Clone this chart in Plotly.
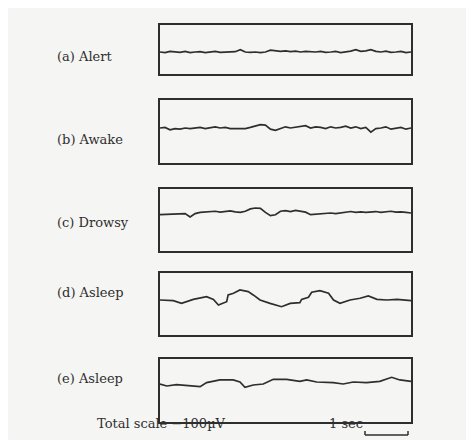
import numpy as np
import plotly.graph_objects as go

# EEG traces (approx. microvolts), 7 s per panel
labels = ["(a) Alert", "(b) Awake", "(c) Drowsy", "(d) Asleep", "(e) Asleep"]

t_fast = np.linspace(0, 7, 51)
alert = [0, -1, 1, 0.5, -0.5, 1, -1, 0, 0.5, -1, 0, 1, -0.5, 0, 1, 0.5, 4, 0, -0.5, 0, -1, 0, 3, 2.5, 1, 2,
         0.5, 1.5, 0, 1, 0.5, 0, 1, -0.5, 0, 1, -1, 0, 1.5, 4, 1, 2, 4, 1, 0, 1.5, -0.5, 0, 1, -1, 0]
awake = [0, 1, -3, -1, -2, 0, -1, 0, 1, -1, 0, 2, 0, 1, -1, -1, 0, -1, 1, 4, 5.7, 5, -2, -4, -1, 2,
         0, 1, 3, 4, 0, 2, 1, -1, 2, 0, 1, 3, 0, 2, -1, 1, -7, -1, 0, 2, -2, 0, 1, -2, 0]
drowsy = [-2.8, -2.5, -2, -1, -0.5, -1, -6.8, -1, 1, 2, 2.5, 3, 1.5, 2.5, 3.5, 2, 1, 3, 7, 8.5, 8, 1, -4.6, -3,
          3, 4, 2.5, 4.5, 3, 1.5, -2.8, -2, -1.5, -0.5, 0, -1, 0.5, 1.5, 2.5, 1, 2, 1, 1.5, 2.5, 1, 2, 3,
          1.5, 2, 1, 0]

t_d = [0, 0.37, 0.6, 0.93, 1.3, 1.49, 1.63, 1.77, 1.86, 1.9, 2.05, 2.23, 2.46, 2.6, 2.79, 3.07, 3.39,
       3.63, 3.9, 3.95, 4.14, 4.23, 4.46, 4.7, 4.84, 5.02, 5.3, 5.58, 5.81, 6.05, 6.33, 6.61, 7]
asleep_d = [0, -1.1, -5.7, 1.1, 5.7, 1.1, -8.6, -4.6, -2.9, 8.6, 11.4, 17.1, 14.3, 8.6, 0, -5.7, -11.4,
            -5.7, -4.6, 1.1, 4.6, 13.1, 16, 11.4, 0, -5.7, 0, 2.9, 6.8, 1.1, 0, 1.1, -1.1]

t_e = [0, 0.19, 0.46, 0.74, 1.12, 1.3, 1.67, 2.04, 2.23, 2.37, 2.6, 2.88, 3.16, 3.53, 3.9, 4.09, 4.37,
       4.83, 5.11, 5.39, 5.76, 6.13, 6.46, 6.69, 7]
asleep_e = [1.7, -1.7, 0.6, -0.6, -2.9, 4, 8.6, 8.6, 5.1, -4, 0, 1.7, 9.7, 9.7, 6.3, 8.6, 5.1, 4, 1.7,
            5.1, 4, 6.3, 13.1, 8.6, 6.3]

series = [(t_fast, alert), (t_fast, awake), (t_fast, drowsy), (t_d, asleep_d), (t_e, asleep_e)]

# page has an 8px body margin, so work in window pixels shifted by it
OFF = 8
W, H = 474 - OFF, 440 - OFF
def px(x):
    return (x - OFF) / W
def py(y):
    return 1 - (y - OFF) / H

# panel boxes in window pixels: top, trace baseline, bottom
boxes = [(25, 52, 74), (100, 128, 163), (189, 213, 251), (273, 300, 335), (359, 385, 422)]
label_y = [47, 130, 222, 302, 388]
uv_per_px = 1.7

fig = go.Figure()
ink = "#2e2e2e"
for i, ((t, v), (top, mid, bot)) in enumerate(zip(series, boxes)):
    n = "" if i == 0 else str(i + 1)
    fig.add_trace(go.Scatter(x=t, y=v, mode="lines", xaxis="x" + n, yaxis="y" + n,
                             line=dict(color=ink, width=1.7), showlegend=False))
    ax = dict(domain=[px(160), px(411)], range=[0, 7], showticklabels=False, showgrid=False,
              zeroline=False, showline=True, mirror=True, linecolor=ink, linewidth=2.2, ticks="",
              anchor="y" + n)
    ay = dict(domain=[py(bot), py(top)], anchor="x" + n,
              range=[-(bot - mid) * uv_per_px, (mid - top) * uv_per_px], showticklabels=False,
              showgrid=False, zeroline=False, showline=True, mirror=True, linecolor=ink, linewidth=2.2)
    fig.update_layout({"xaxis" + n: ax, "yaxis" + n: ay})
    fig.add_annotation(x=px(55), y=py(label_y[i]), xref="paper", yref="paper", xanchor="left",
                       text=labels[i], showarrow=False, font=dict(size=13, color=ink))

fig.add_annotation(x=px(95), y=py(433), xref="paper", yref="paper", xanchor="left",
                   text="Total scale −100µV", showarrow=False, font=dict(size=13, color=ink))
fig.add_annotation(x=px(327), y=py(433), xref="paper", yref="paper", xanchor="left",
                   text="1 sec", showarrow=False, font=dict(size=13, color=ink))

bar = [(365, 435, 408, 435), (365, 435, 365, 431), (408, 435, 408, 431)]
shapes = [dict(type="line", xref="paper", yref="paper", x0=px(a), y0=py(b), x1=px(c), y1=py(d),
               line=dict(color=ink, width=1.5)) for a, b, c, d in bar]

fig.update_layout(width=W, height=H, margin=dict(l=0, r=0, t=0, b=0), shapes=shapes,
                  paper_bgcolor="#f5f5f3", plot_bgcolor="#f5f5f3",
                  font=dict(family="DejaVu Serif, Liberation Serif, serif", color=ink))

fig.write_html("out.html")
